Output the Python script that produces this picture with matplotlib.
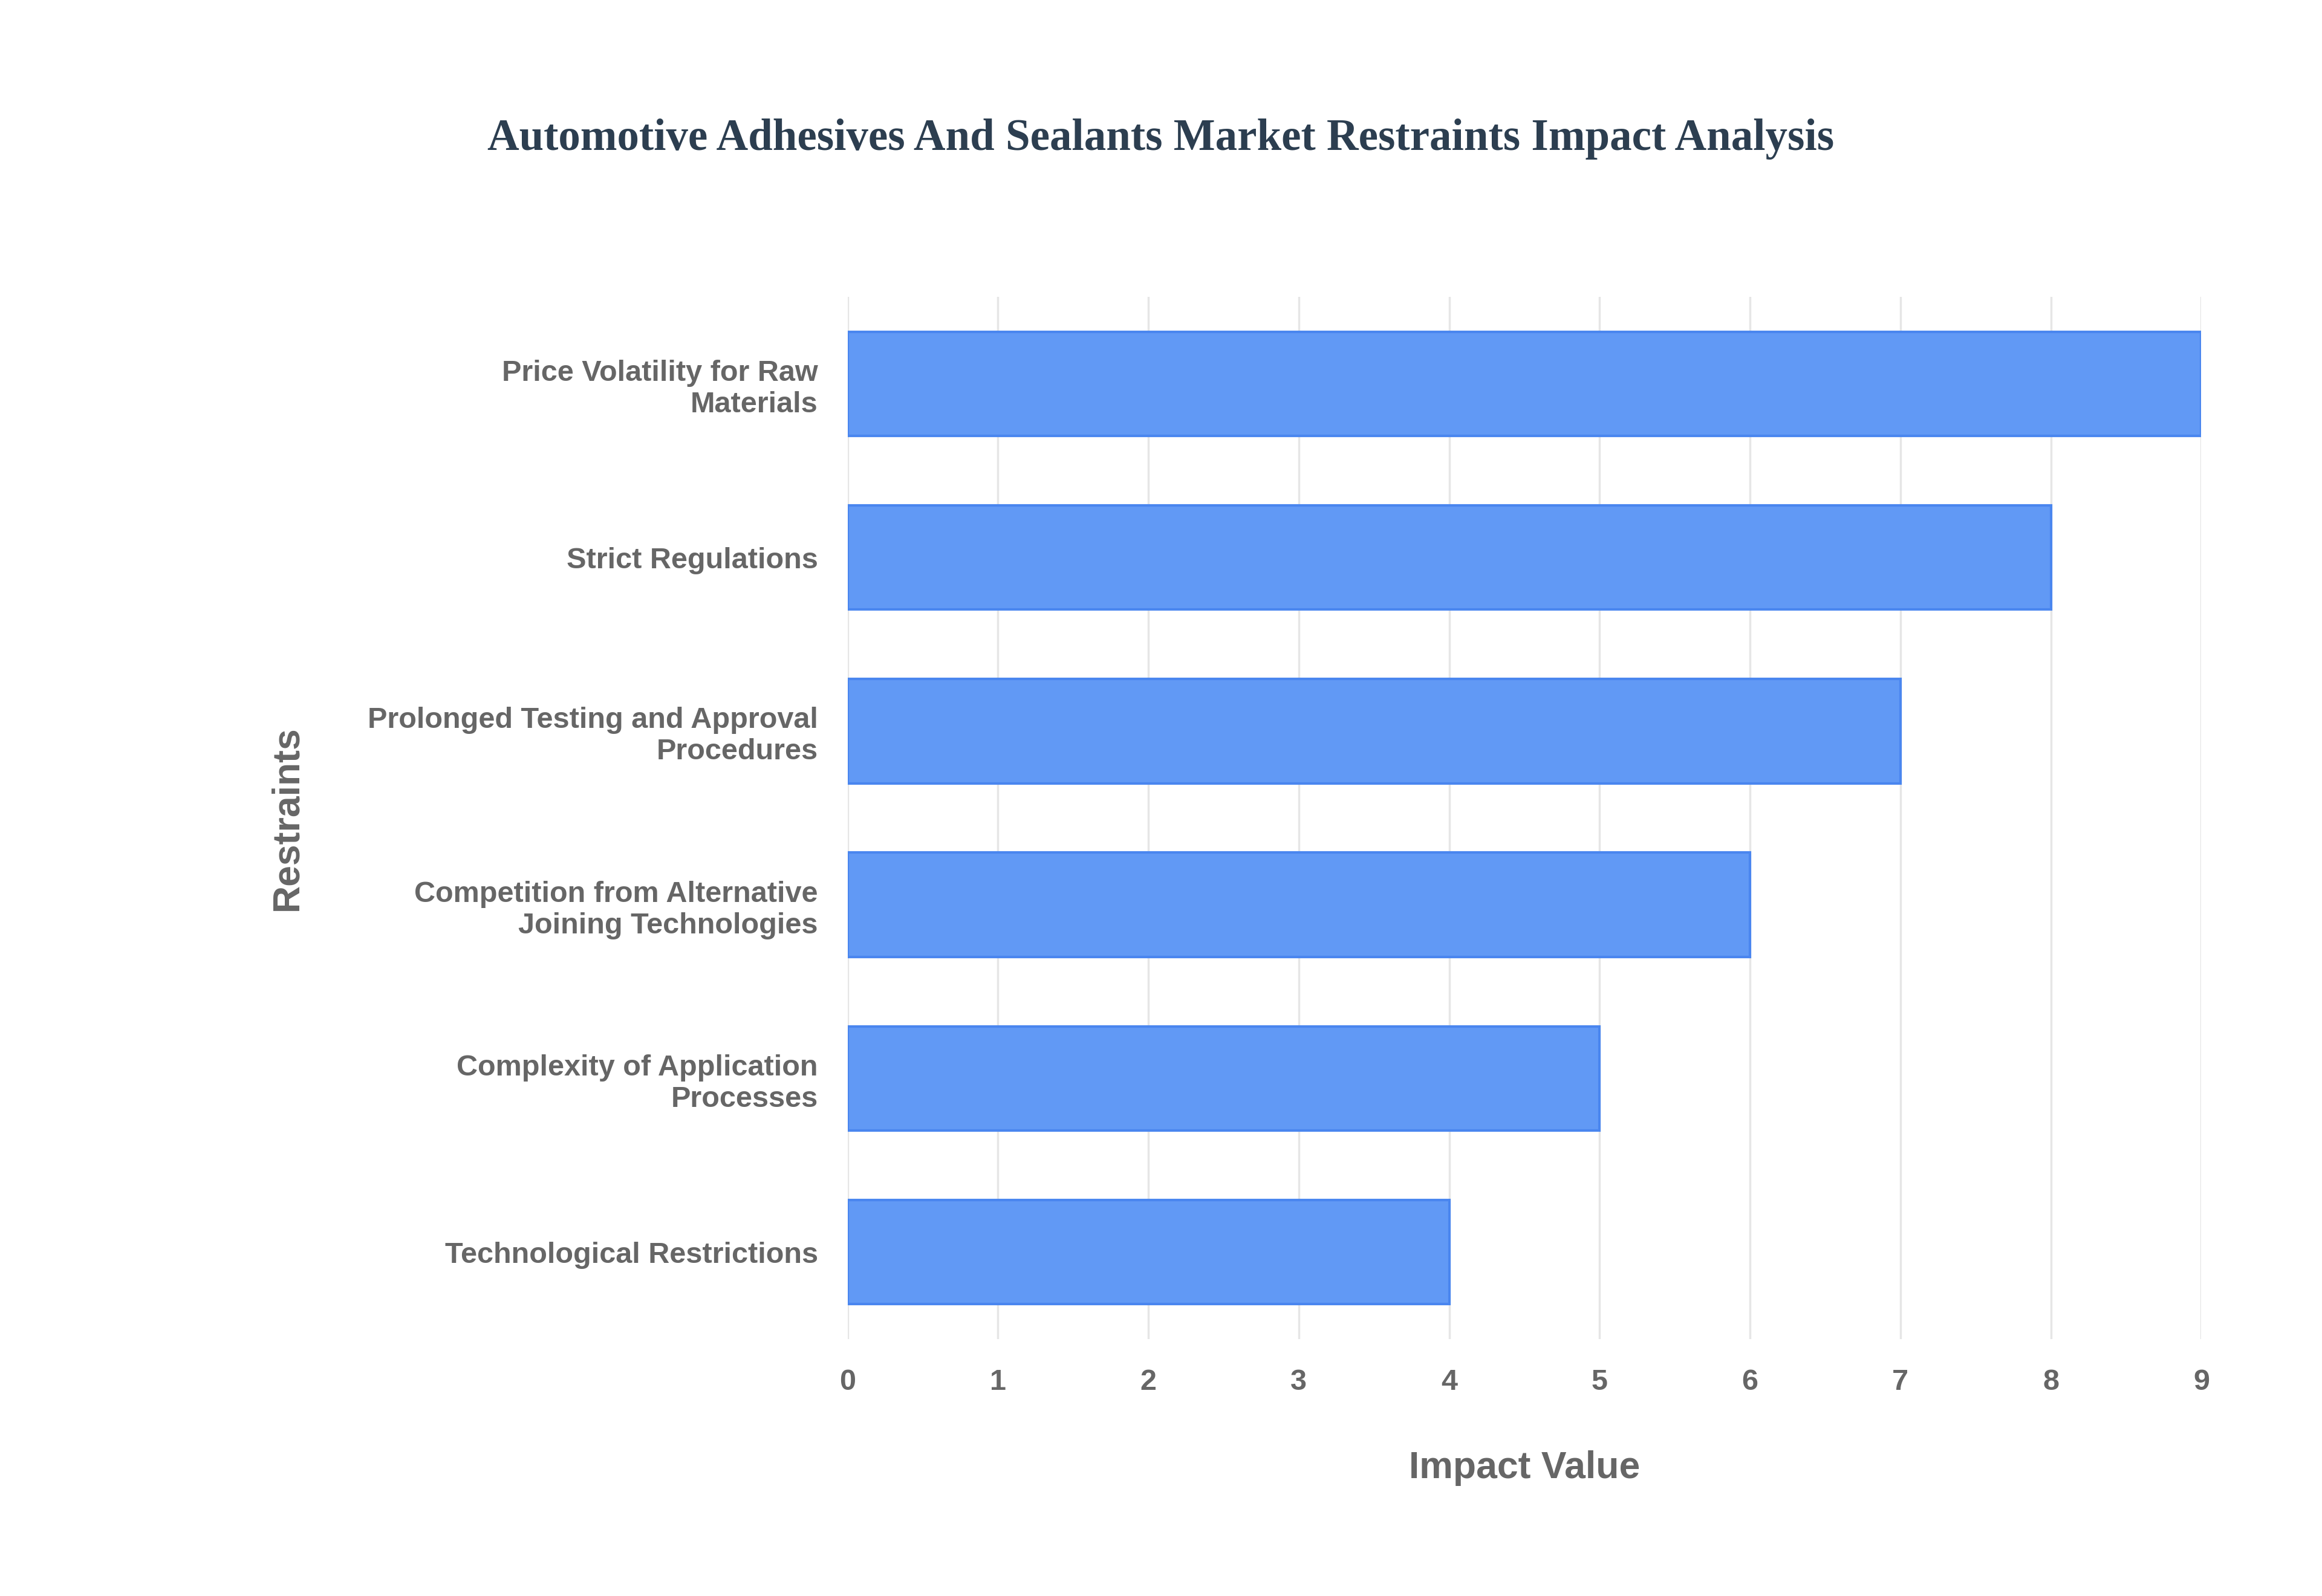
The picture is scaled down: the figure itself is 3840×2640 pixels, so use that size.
import matplotlib
matplotlib.use("Agg")
import matplotlib.pyplot as plt

categories = ["Price Volatility for Raw\nMaterials", "Strict Regulations",
              "Prolonged Testing and Approval\nProcedures",
              "Competition from Alternative\nJoining Technologies",
              "Complexity of Application\nProcesses", "Technological Restrictions"]
values = [9, 8, 7, 6, 5, 4]
xticks = list(range(10))

fig = plt.figure(figsize=(15.36, 10.56), dpi=250)
ax = fig.add_axes([0.365, 0.161, 0.583, 0.653])
y = list(range(len(categories)))[::-1]
ax.barh(y, values, height=0.6, color="#6199f5", edgecolor="#4a86ef", linewidth=1.2, zorder=3)
ax.set_xlim(0, 9)
ax.set_ylim(-0.5, 5.5)
ax.set_yticks(y)
ax.set_yticklabels(categories, fontsize=14, fontweight="bold", color="#666666", family="Liberation Sans")
ax.set_xticks(xticks)
ax.set_xticklabels([str(t) for t in xticks], fontsize=14, fontweight="bold", color="#666666", family="Liberation Sans")
ax.grid(axis="x", color="#e6e6e6", linewidth=1, zorder=0)
for s in ax.spines.values():
    s.set_visible(False)
ax.tick_params(length=0, pad=14)
ax.set_xlabel("Impact Value", fontsize=18, fontweight="bold", color="#666666", family="Liberation Sans", labelpad=26)
ax.set_ylabel("Restraints", fontsize=18, fontweight="bold", color="#666666", family="Liberation Sans", labelpad=30)
fig.text(0.5, 0.913, "Automotive Adhesives And Sealants Market Restraints Impact Analysis",
         ha="center", va="center", fontsize=21, fontweight="bold", color="#2c3e50", family="Liberation Serif")
fig.savefig("out.png", dpi=250, facecolor="white")
